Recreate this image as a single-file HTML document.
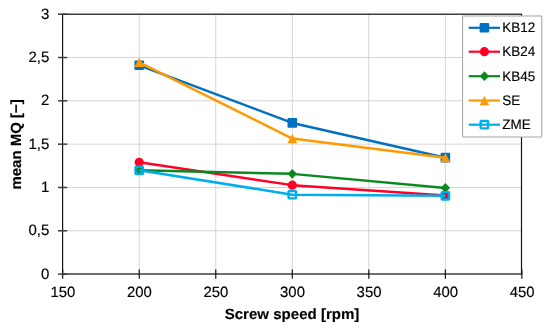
<!DOCTYPE html>
<html><head><meta charset="utf-8"><title>Chart</title>
<style>
html,body{margin:0;padding:0;background:#fff;}
svg{display:block;}
text{font-family:"Liberation Sans",Arial,sans-serif;fill:#000;stroke:#000;stroke-width:0.15px;text-rendering:geometricPrecision;}
.t{font-size:15px;}
.b{font-size:14.7px;font-weight:bold;}
.l{font-size:13.75px;}
</style></head><body>
<svg width="550" height="330" viewBox="0 0 550 330">
<rect width="550" height="330" fill="#fff"/>
<line x1="139.23" y1="14.2" x2="139.23" y2="274.1" stroke="#cecece" stroke-width="0.85"/>
<line x1="215.77" y1="14.2" x2="215.77" y2="274.1" stroke="#cecece" stroke-width="0.85"/>
<line x1="292.30" y1="14.2" x2="292.30" y2="274.1" stroke="#cecece" stroke-width="0.85"/>
<line x1="368.83" y1="14.2" x2="368.83" y2="274.1" stroke="#cecece" stroke-width="0.85"/>
<line x1="445.37" y1="14.2" x2="445.37" y2="274.1" stroke="#cecece" stroke-width="0.85"/>
<line x1="62.7" y1="230.78" x2="521.9" y2="230.78" stroke="#cecece" stroke-width="0.85"/>
<line x1="62.7" y1="187.47" x2="521.9" y2="187.47" stroke="#cecece" stroke-width="0.85"/>
<line x1="62.7" y1="144.15" x2="521.9" y2="144.15" stroke="#cecece" stroke-width="0.85"/>
<line x1="62.7" y1="100.83" x2="521.9" y2="100.83" stroke="#cecece" stroke-width="0.85"/>
<line x1="62.7" y1="57.52" x2="521.9" y2="57.52" stroke="#cecece" stroke-width="0.85"/>
<line x1="62.0" y1="14.2" x2="522.1" y2="14.2" stroke="#3c3c3c" stroke-width="1.5"/>
<line x1="62.0" y1="274.1" x2="522.1" y2="274.1" stroke="#3c3c3c" stroke-width="1.5"/>
<line x1="62.6" y1="14.2" x2="62.6" y2="274.1" stroke="#141414" stroke-width="1.2"/>
<line x1="521.5" y1="14.2" x2="521.5" y2="274.1" stroke="#141414" stroke-width="1.2"/>
<line x1="62.70" y1="269.5" x2="62.70" y2="278.70000000000005" stroke="#141414" stroke-width="1.2"/>
<text class="t" style="font-size:14.9px" transform="translate(62.90,296.7) scale(1.0,1)" text-anchor="middle">150</text>
<line x1="139.23" y1="269.5" x2="139.23" y2="278.70000000000005" stroke="#141414" stroke-width="1.2"/>
<text class="t" style="font-size:14.9px" transform="translate(139.43,296.7) scale(1.0,1)" text-anchor="middle">200</text>
<line x1="215.77" y1="269.5" x2="215.77" y2="278.70000000000005" stroke="#141414" stroke-width="1.2"/>
<text class="t" style="font-size:14.9px" transform="translate(215.97,296.7) scale(1.0,1)" text-anchor="middle">250</text>
<line x1="292.30" y1="269.5" x2="292.30" y2="278.70000000000005" stroke="#141414" stroke-width="1.2"/>
<text class="t" style="font-size:14.9px" transform="translate(292.50,296.7) scale(1.0,1)" text-anchor="middle">300</text>
<line x1="368.83" y1="269.5" x2="368.83" y2="278.70000000000005" stroke="#141414" stroke-width="1.2"/>
<text class="t" style="font-size:14.9px" transform="translate(369.03,296.7) scale(1.0,1)" text-anchor="middle">350</text>
<line x1="445.37" y1="269.5" x2="445.37" y2="278.70000000000005" stroke="#141414" stroke-width="1.2"/>
<text class="t" style="font-size:14.9px" transform="translate(445.57,296.7) scale(1.0,1)" text-anchor="middle">400</text>
<line x1="521.90" y1="269.5" x2="521.90" y2="278.70000000000005" stroke="#141414" stroke-width="1.2"/>
<text class="t" style="font-size:14.9px" transform="translate(522.10,296.7) scale(1.0,1)" text-anchor="middle">450</text>
<line x1="58.0" y1="274.10" x2="67.2" y2="274.10" stroke="#3c3c3c" stroke-width="1.5"/>
<text class="t" transform="translate(49.3,278.70) scale(1.0,1)" text-anchor="end">0</text>
<line x1="58.0" y1="230.78" x2="67.2" y2="230.78" stroke="#3c3c3c" stroke-width="1.5"/>
<text class="t" transform="translate(49.3,235.38) scale(1.0,1)" text-anchor="end">0,5</text>
<line x1="58.0" y1="187.47" x2="67.2" y2="187.47" stroke="#3c3c3c" stroke-width="1.5"/>
<text class="t" transform="translate(49.3,192.07) scale(1.0,1)" text-anchor="end">1</text>
<line x1="58.0" y1="144.15" x2="67.2" y2="144.15" stroke="#3c3c3c" stroke-width="1.5"/>
<text class="t" transform="translate(49.3,148.75) scale(1.0,1)" text-anchor="end">1,5</text>
<line x1="58.0" y1="100.83" x2="67.2" y2="100.83" stroke="#3c3c3c" stroke-width="1.5"/>
<text class="t" transform="translate(49.3,105.43) scale(1.0,1)" text-anchor="end">2</text>
<line x1="58.0" y1="57.52" x2="67.2" y2="57.52" stroke="#3c3c3c" stroke-width="1.5"/>
<text class="t" transform="translate(49.3,62.12) scale(1.0,1)" text-anchor="end">2,5</text>
<line x1="58.0" y1="14.20" x2="67.2" y2="14.20" stroke="#3c3c3c" stroke-width="1.5"/>
<text class="t" transform="translate(49.3,18.80) scale(1.0,1)" text-anchor="end">3</text>
<text class="b" transform="translate(292,318.5) scale(1.025,1)" text-anchor="middle">Screw speed [rpm]</text>
<text class="b" transform="translate(20.8,144.4) rotate(-90) scale(1.02,1)" text-anchor="middle">mean MQ [−]</text>
<polyline points="139.23,65.31 292.30,122.92 445.37,157.66" fill="none" stroke="#0070C0" stroke-width="2.5" stroke-linejoin="round"/>
<rect x="134.43" y="60.51" width="9.6" height="9.6" rx="1" fill="#0070C0"/>
<rect x="287.50" y="118.12" width="9.6" height="9.6" rx="1" fill="#0070C0"/>
<rect x="440.57" y="152.86" width="9.6" height="9.6" rx="1" fill="#0070C0"/>
<polyline points="139.23,162.34 292.30,185.13 445.37,195.44" fill="none" stroke="#FF0026" stroke-width="2.5" stroke-linejoin="round"/>
<circle cx="139.23" cy="162.34" r="4.6" fill="#FF0026"/>
<circle cx="292.30" cy="185.13" r="4.6" fill="#FF0026"/>
<circle cx="445.37" cy="195.44" r="4.6" fill="#FF0026"/>
<polyline points="139.23,170.14 292.30,173.87 445.37,187.90" fill="none" stroke="#0A8A1E" stroke-width="2.5" stroke-linejoin="round"/>
<polygon points="134.53,170.14 139.23,165.24 143.93,170.14 139.23,175.04" fill="#0A8A1E"/>
<polygon points="287.60,173.87 292.30,168.97 297.00,173.87 292.30,178.77" fill="#0A8A1E"/>
<polygon points="440.67,187.90 445.37,183.00 450.07,187.90 445.37,192.80" fill="#0A8A1E"/>
<polyline points="139.23,62.28 292.30,138.52 445.37,157.66" fill="none" stroke="#FF9900" stroke-width="2.5" stroke-linejoin="round"/>
<polygon points="134.38,66.98 139.23,57.68 144.08,66.98" fill="#FF9900"/>
<polygon points="287.45,143.22 292.30,133.92 297.15,143.22" fill="#FF9900"/>
<polygon points="440.52,162.36 445.37,153.06 450.22,162.36" fill="#FF9900"/>
<polyline points="139.23,170.31 292.30,194.66 445.37,195.78" fill="none" stroke="#00AEEC" stroke-width="2.5" stroke-linejoin="round"/>
<rect x="135.53" y="166.61" width="7.4" height="7.4" rx="0.6" fill="none" stroke="#00AEEC" stroke-width="2.4"/>
<rect x="288.60" y="190.96" width="7.4" height="7.4" rx="0.6" fill="none" stroke="#00AEEC" stroke-width="2.4"/>
<rect x="441.67" y="192.08" width="7.4" height="7.4" rx="0.6" fill="none" stroke="#00AEEC" stroke-width="2.4"/>
<rect x="462.6" y="15.9" width="79.2" height="121" rx="0.8" fill="#fff" stroke="#a4a4a4" stroke-width="1.05"/>
<line x1="468.7" y1="27.8" x2="500" y2="27.8" stroke="#0070C0" stroke-width="2.2"/>
<rect x="479.60" y="23.00" width="9.6" height="9.6" rx="1" fill="#0070C0"/>
<text class="l" transform="translate(502.3,32.15) scale(0.98,1)">KB12</text>
<line x1="468.7" y1="51.7" x2="500" y2="51.7" stroke="#FF0026" stroke-width="2.2"/>
<circle cx="484.40" cy="51.70" r="4.6" fill="#FF0026"/>
<text class="l" transform="translate(502.3,56.05) scale(0.98,1)">KB24</text>
<line x1="468.7" y1="76.2" x2="500" y2="76.2" stroke="#0A8A1E" stroke-width="2.2"/>
<polygon points="479.70,76.20 484.40,71.30 489.10,76.20 484.40,81.10" fill="#0A8A1E"/>
<text class="l" transform="translate(502.3,80.55) scale(0.98,1)">KB45</text>
<line x1="468.7" y1="100.5" x2="500" y2="100.5" stroke="#FF9900" stroke-width="2.2"/>
<polygon points="479.55,105.20 484.40,95.90 489.25,105.20" fill="#FF9900"/>
<text class="l" transform="translate(502.3,104.85) scale(0.98,1)">SE</text>
<line x1="468.7" y1="124.7" x2="500" y2="124.7" stroke="#00AEEC" stroke-width="2.2"/>
<rect x="480.70" y="121.00" width="7.4" height="7.4" rx="0.6" fill="none" stroke="#00AEEC" stroke-width="2.4"/>
<text class="l" transform="translate(502.3,129.05) scale(0.98,1)">ZME</text>
</svg></body></html>
